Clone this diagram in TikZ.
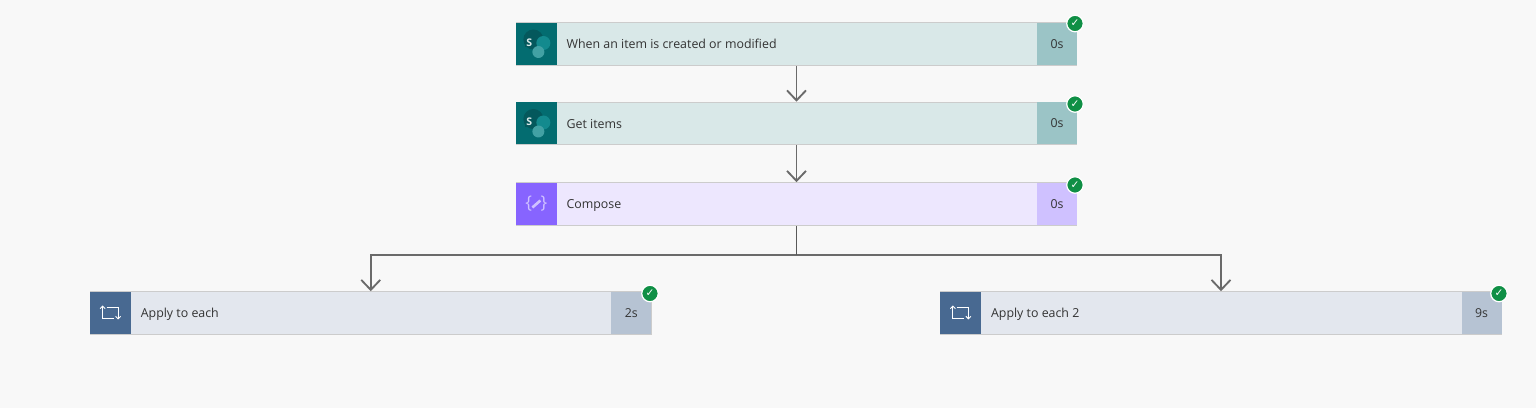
\documentclass[tikz,border=0pt]{standalone}
\usepackage{fontspec}
\setmainfont{Open Sans}
\newfontfamily\markfont{DejaVu Sans}
\usetikzlibrary{positioning, arrows.meta}

\definecolor{pagebg}{HTML}{F8F8F8}
\definecolor{edgegrey}{HTML}{CCCCCC}
\definecolor{linkgrey}{HTML}{6A6A6A}
\definecolor{okgreen}{HTML}{0F8F45}
\definecolor{spbody}{HTML}{D9E8E8}
\definecolor{spicon}{HTML}{036C70}
\definecolor{spdark}{HTML}{04585C}
\definecolor{spmid}{HTML}{138A8E}
\definecolor{sptime}{HTML}{9BC4C6}
\definecolor{cpbody}{HTML}{EDE7FE}
\definecolor{cpicon}{HTML}{8764FF}
\definecolor{cpmark}{HTML}{CFC1FF}
\definecolor{cptime}{HTML}{CFC1FF}
\definecolor{lpbody}{HTML}{E3E7EE}
\definecolor{lpicon}{HTML}{486991}
\definecolor{lptime}{HTML}{B6C3D3}

\tikzset{
  stepbody/.style={draw=edgegrey, line width=0.6pt, minimum width=11.22cm, minimum height=0.85cm, inner sep=0pt},
  stepicon/.style={minimum width=0.82cm, minimum height=0.84cm, inner sep=0pt, anchor=west},
  steptime/.style={minimum width=0.8cm, minimum height=0.84cm, inner sep=0pt, anchor=east, text=black!80, font=\fontsize{7}{8}\selectfont},
  steptext/.style={inner sep=0pt, text height=6.4pt, text depth=1.2pt, text=black!80, font=\fontsize{7.05}{8}\selectfont},
  okbadge/.style={circle, fill=okgreen, draw=white, line width=0.7pt, minimum size=0.33cm, inner sep=0pt, text=white, font=\markfont\bfseries\fontsize{6}{6}\selectfont},
  link/.style={draw=linkgrey, line width=1.05pt},
  linkarrow/.style={link, -{Straight Barb[length=0.2cm, width=0.38cm, line width=1.05pt]}},
  linkstem/.style={draw=black!65, line width=0.7pt},
  pics/sharepoint/.style={code={
    \fill[spdark] (-3,-4.5) circle (10);
    \fill[spmid] (7,-1) circle (7);
    \fill[spmid!80!white] (2,8) circle (6);
    \node[fill=spdark, text=spbody, minimum width=0.16cm, minimum height=0.2cm, inner sep=0pt, font=\bfseries\fontsize{6}{6}\selectfont] (-s) at (-7,-1.5) {S};
  }},
  pics/loopmark/.style={code={
    \draw[white, line width=0.55pt, -{Straight Barb[length=0.05cm, width=0.1cm]}] (3,5.5) -- (-8,5.5) -- (-8,-7.5);
    \draw[white, line width=0.55pt, -{Straight Barb[length=0.05cm, width=0.1cm]}] (-4,-5.5) -- (7.5,-5.5) -- (7.5,6.5);
  }},
}

\begin{document}
\begin{tikzpicture}[x=0.02cm, y=-0.02cm]
  \useasboundingbox[fill=pagebg] (0,0) rectangle (1536,408);

  % Trigger
  \node[stepbody, fill=spbody] (trigger) at (796.5,44) {};
  \node[stepicon, fill=spicon] (triggericon) at (trigger.west) {};
  \node[steptime, fill=sptime] (triggertime) at (trigger.east) {0s};
  \node[steptext, right=0.18cm of triggericon] (triggertext) {When an item is created or modified};
  \pic (triggerlogo) at (triggericon.center) {sharepoint};
  \node[okbadge] (triggerok) at (1075,23.5) {\char"2713};

  % Get items
  \node[stepbody, fill=spbody] (items) at (796.5,123.5) {};
  \node[stepicon, fill=spicon] (itemsicon) at (items.west) {};
  \node[steptime, fill=sptime] (itemstime) at (items.east) {0s};
  \node[steptext, right=0.18cm of itemsicon] (itemstext) {Get items};
  \pic (itemslogo) at (itemsicon.center) {sharepoint};
  \node[okbadge] (itemsok) at (1075,104) {\char"2713};

  % Compose
  \node[stepbody, fill=cpbody] (compose) at (796.5,204) {};
  \node[stepicon, fill=cpicon] (composeicon) at (compose.west) {};
  \node[steptime, fill=cptime] (composetime) at (compose.east) {0s};
  \node[steptext, right=0.18cm of composeicon] (composetext) {Compose};
  \node[text=cpmark, inner sep=0pt, font=\fontsize{10}{10}\selectfont] (composelogo) at (composeicon.center) {\{\hspace{0.17cm}\}};
  \draw[cpmark, line width=1.5pt] ([shift={(-4,3.5)}]composeicon.center) -- ([shift={(4,-3.5)}]composeicon.center);
  \node[okbadge] (composeok) at (1075,185) {\char"2713};

  % Left loop
  \node[stepbody, fill=lpbody] (eachone) at (370.75,313) {};
  \node[stepicon, fill=lpicon] (eachoneicon) at (eachone.west) {};
  \node[steptime, fill=lptime] (eachonetime) at (eachone.east) {2s};
  \node[steptext, right=0.18cm of eachoneicon] (eachonetext) {Apply to each};
  \pic (eachonelogo) at (eachoneicon.center) {loopmark};
  \node[okbadge] (eachoneok) at (650,293.5) {\char"2713};

  % Right loop
  \node[stepbody, fill=lpbody] (eachtwo) at (1221,313) {};
  \node[stepicon, fill=lpicon] (eachtwoicon) at (eachtwo.west) {};
  \node[steptime, fill=lptime] (eachtwotime) at (eachtwo.east) {9s};
  \node[steptext, right=0.18cm of eachtwoicon] (eachtwotext) {Apply to each 2};
  \pic (eachtwologo) at (eachtwoicon.center) {loopmark};
  \node[okbadge] (eachtwook) at (1499,293.5) {\char"2713};

  % Links
  \draw[linkarrow] (trigger) -- (items);
  \draw[linkarrow] (items) -- (compose);
  \coordinate (fork) at (796.5,255);
  \draw[linkarrow] (fork) -| (eachone);
  \draw[linkarrow] (fork) -| (eachtwo);
  \draw[linkstem] (compose) -- (fork);
\end{tikzpicture}
\end{document}
